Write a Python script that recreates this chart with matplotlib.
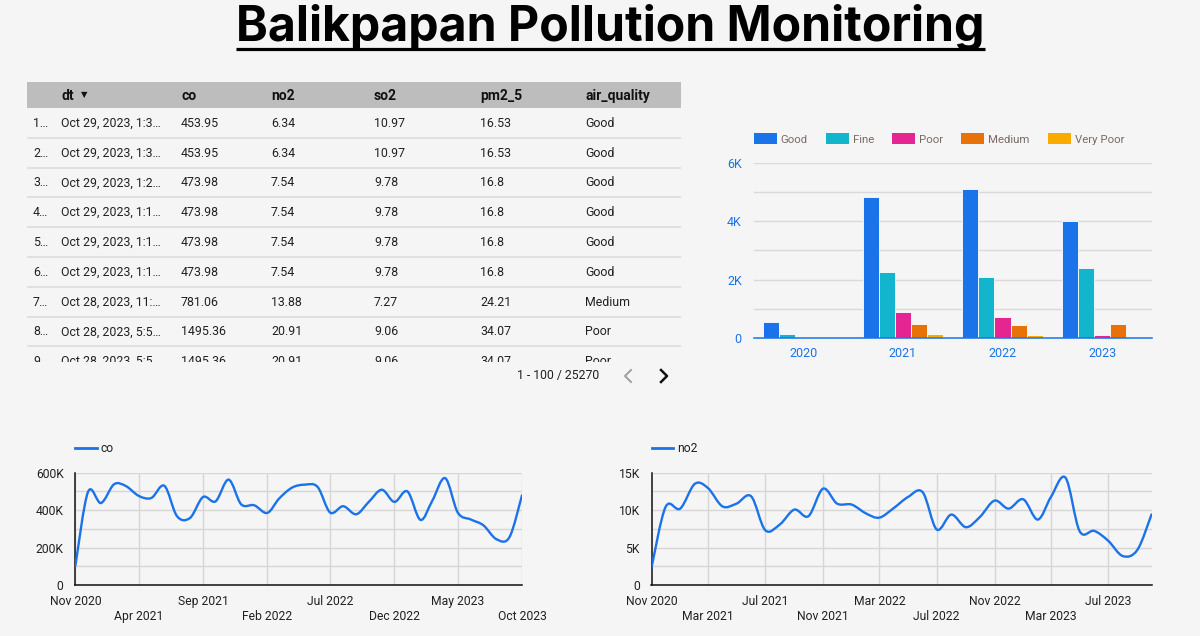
import matplotlib
matplotlib.use("Agg")
import matplotlib.dates as mdates
import matplotlib.pyplot as plt
import numpy as np
import pandas as pd
from matplotlib.lines import Line2D
from matplotlib.patches import Patch, PathPatch, Rectangle
from matplotlib.path import Path
from matplotlib.ticker import FuncFormatter, MultipleLocator


W, H = 1200, 636
BG = "#f5f5f5"
BLUE = "#1a73e8"
TEXT = "#202124"

TITLE = "Balikpapan Pollution Monitoring"

# table (first rows of the dashboard table)
TABLE_HEADER = ["dt", "co", "no2", "so2", "pm2_5", "air_quality"]
TABLE_INDEX = ["1…", "2…", "3…", "4…", "5…", "6…", "7…", "8…", "9…"]
TABLE_DT = [
    "Oct 29, 2023, 1:3…", "Oct 29, 2023, 1:3…", "Oct 29, 2023, 1:2…",
    "Oct 29, 2023, 1:1…", "Oct 29, 2023, 1:1…", "Oct 29, 2023, 1:1…",
    "Oct 28, 2023, 11:…", "Oct 28, 2023, 5:5…", "Oct 28, 2023, 5:5…",
]
TABLE_CO = ["453.95", "453.95", "473.98", "473.98", "473.98", "473.98",
            "781.06", "1495.36", "1495.36"]
TABLE_NO2 = ["6.34", "6.34", "7.54", "7.54", "7.54", "7.54", "13.88", "20.91", "20.91"]
TABLE_SO2 = ["10.97", "10.97", "9.78", "9.78", "9.78", "9.78", "7.27", "9.06", "9.06"]
TABLE_PM25 = ["16.53", "16.53", "16.8", "16.8", "16.8", "16.8", "24.21", "34.07", "34.07"]
TABLE_AQ = ["Good", "Good", "Good", "Good", "Good", "Good", "Medium", "Poor", "Poor"]
TABLE_PAGER = "1 - 100 / 25270"

# bar chart: air quality counts per year
YEARS = ["2020", "2021", "2022", "2023"]
QUALITY = ["Good", "Fine", "Poor", "Medium", "Very Poor"]
QUALITY_COLORS = ["#1a73e8", "#12b5cb", "#e52592", "#e8710a", "#f9ab00"]
GOOD = [550, 4830, 5100, 3990]
FINE = [150, 2250, 2080, 2400]
POOR = [60, 890, 720, 110]
MEDIUM = [40, 500, 470, 500]
VERY_POOR = [0, 150, 115, 0]

# monthly sums
MONTHS = pd.date_range("2020-11-01", "2023-10-01", freq="MS")
CO = [103000, 497000, 438000, 538000, 529000, 476000, 465000, 530000, 368000,
      358000, 470000, 447000, 563000, 431000, 426000, 385000, 461000, 520000,
      536000, 524000, 387000, 421000, 378000, 444000, 509000, 444000, 500000,
      348000, 449000, 571000, 387000, 350000, 319000, 245000, 255000, 479000]
NO2 = [2310, 10430, 10200, 13500, 12960, 10500, 10870, 11850, 7320,
       8080, 10070, 9190, 12870, 10870, 10740, 9540, 9000, 10300,
       11760, 12400, 7410, 9410, 7720, 9100, 11270, 10200, 11450,
       8740, 11760, 14330, 7190, 7230, 5900, 3860, 4700, 9410]


def px_axes(fig, x0, y0, x1, y1):
    return fig.add_axes([x0 / W, 1 - y1 / H, (x1 - x0) / W, (y1 - y0) / H])


def k_fmt(v, pos):
    return "0" if v == 0 else f"{v / 1000:g}K"


def smooth_line(ax, dates, values, color):
    x = mdates.date2num(dates)
    y = np.asarray(values, dtype=float)
    xp = np.r_[x[0], x, x[-1]]
    yp = np.r_[y[0], y, y[-1]]
    verts = [(x[0], y[0])]
    codes = [Path.MOVETO]
    for i in range(len(x) - 1):
        verts.append((xp[i + 1] + (xp[i + 2] - xp[i]) / 6,
                      yp[i + 1] + (yp[i + 2] - yp[i]) / 6))
        verts.append((xp[i + 2] - (xp[i + 3] - xp[i + 1]) / 6,
                      yp[i + 2] - (yp[i + 3] - yp[i + 1]) / 6))
        verts.append((xp[i + 2], yp[i + 2]))
        codes += [Path.CURVE4] * 3
    ax.add_patch(PathPatch(Path(verts, codes), facecolor="none", edgecolor=color,
                           lw=1.7, capstyle="round", joinstyle="round", zorder=3))


def line_chart(fig, box, values, label, ymax, major, minor, tick_step, legend_x):
    ax = px_axes(fig, *box)
    ax.set_facecolor(BG)
    smooth_line(ax, MONTHS, values, BLUE)
    ax.set_xlim(MONTHS[0], MONTHS[-1])
    ax.set_ylim(0, ymax)
    ax.yaxis.set_major_locator(MultipleLocator(major))
    ax.yaxis.set_minor_locator(MultipleLocator(minor))
    ax.yaxis.set_major_formatter(FuncFormatter(k_fmt))
    ticks = MONTHS[::tick_step]
    ax.set_xticks(ticks)
    ax.set_xticklabels([("" if i % 2 == 0 else "\n") + d.strftime("%b %Y")
                        for i, d in enumerate(ticks)])
    ax.grid(True, which="both", color="#d6d6d6", lw=1.0)
    ax.set_axisbelow(True)
    ax.tick_params(axis="both", which="both", length=0, labelsize=8.7,
                   labelcolor=TEXT)
    ax.tick_params(axis="y", pad=8.5)
    ax.tick_params(axis="x", pad=7)
    for side in ("top", "right"):
        ax.spines[side].set_visible(False)
    for side in ("left", "bottom"):
        ax.spines[side].set_color("#111111")
        ax.spines[side].set_linewidth(1.1)
    fig.legend([Line2D([], [], color=BLUE, lw=2.0)], [label], loc="center left",
               bbox_to_anchor=(legend_x / W, 1 - 449 / H), frameon=False,
               borderpad=0, borderaxespad=0, handlelength=1.75,
               handletextpad=0.35, fontsize=8.7, labelcolor=TEXT)
    return ax


fig = plt.figure(figsize=(W / 100, H / 100), dpi=100, facecolor=BG)
plt.rcParams["font.family"] = ["Roboto", "DejaVu Sans"]

ax_bg = fig.add_axes([0, 0, 1, 1])
ax_bg.set_xlim(0, W)
ax_bg.set_ylim(H, 0)
ax_bg.axis("off")

# title with underline, sized so it spans the same width as the original
title = ax_bg.text(610.5, 41, TITLE, ha="center", va="baseline", fontsize=32,
                   fontweight="bold", family=["Inter", "DejaVu Sans"], color="#000000")
fig.canvas.draw()
title.set_fontsize(32 * 749 / title.get_window_extent().width)
fig.canvas.draw()
tb = title.get_window_extent()
ax_bg.plot([tb.x0, tb.x1], [48.5, 48.5], color="#000000", lw=2.3,
           solid_capstyle="butt")

# table header
ax_bg.add_patch(Rectangle((27, 82), 654, 26, facecolor="#bdbdbd", edgecolor="none"))
col_x = [61, 181, 271, 374, 480, 585]
for x, name in zip(col_x, TABLE_HEADER):
    ax_bg.text(x, 96, name, ha="left", va="center", fontsize=10, fontweight="bold",
               color="#111111")
ax_bg.text(81, 95, "▼", ha="left", va="center", fontsize=6, color="#111111",
           family=["DejaVu Sans"])

# table body (clipped at the bottom like the scrolled view)
ax_tab = px_axes(fig, 27, 108, 681, 362)
ax_tab.set_xlim(27, 681)
ax_tab.set_ylim(362, 108)
ax_tab.axis("off")
row_h = 29.8
columns = [TABLE_INDEX, TABLE_DT, TABLE_CO, TABLE_NO2, TABLE_SO2, TABLE_PM25, TABLE_AQ]
for r in range(len(TABLE_DT)):
    yc = 108 + r * row_h + 15.3
    for x, col in zip([33] + col_x, columns):
        ax_tab.text(x, yc, col[r], ha="left", va="center", fontsize=8.9,
                    color=TEXT, clip_on=True)
    ax_tab.plot([27, 681], [108 + (r + 1) * row_h] * 2, color="#dcdcdc", lw=1.2)

ax_bg.text(517, 376, TABLE_PAGER, ha="left", va="center", fontsize=8.8, color=TEXT)
ax_bg.plot([631, 625, 631], [370, 376, 382], color="#9e9e9e", lw=1.4)
ax_bg.plot([661, 667, 661], [370, 376, 382], color="#111111", lw=1.8)

# bar chart
ax_bar = px_axes(fig, 753.5, 162.5, 1152, 338.3)
ax_bar.set_facecolor(BG)
series = [GOOD, FINE, POOR, MEDIUM, VERY_POOR]
xs = np.arange(len(YEARS))
step = 0.162
for k, (vals, color) in enumerate(zip(series, QUALITY_COLORS)):
    vals = np.asarray(vals, dtype=float)
    keep = vals > 0
    ax_bar.bar(xs[keep] + (k - 2) * step, vals[keep], width=step, color=color,
               edgecolor="white", linewidth=0.6, zorder=3)
ax_bar.set_xlim(-0.5, len(YEARS) - 0.5)
ax_bar.set_ylim(0, 6000)
ax_bar.yaxis.set_major_locator(MultipleLocator(2000))
ax_bar.yaxis.set_minor_locator(MultipleLocator(1000))
ax_bar.yaxis.set_major_formatter(FuncFormatter(k_fmt))
ax_bar.set_xticks(xs)
ax_bar.set_xticklabels(YEARS)
ax_bar.grid(True, axis="y", which="both", color="#dadada", lw=1.0)
ax_bar.set_axisbelow(True)
ax_bar.tick_params(axis="both", which="both", length=0, labelsize=9,
                   labelcolor=BLUE)
ax_bar.tick_params(axis="y", pad=8.5)
ax_bar.tick_params(axis="x", pad=6)
for side in ("top", "right", "left"):
    ax_bar.spines[side].set_visible(False)
ax_bar.spines["bottom"].set_color(BLUE)
ax_bar.spines["bottom"].set_linewidth(1.1)
ax_bar.spines["bottom"].set_zorder(4)
fig.legend([Patch(facecolor=c, edgecolor="none") for c in QUALITY_COLORS], QUALITY,
           loc="center left", bbox_to_anchor=(754 / W, 1 - 139 / H), ncol=5,
           frameon=False, borderpad=0, borderaxespad=0, handlelength=2.0,
           handleheight=1.05, handletextpad=0.35, columnspacing=1.6,
           fontsize=8.2, labelcolor="#7a6a64")

# line charts
line_chart(fig, (75.4, 472.7, 522, 585), CO, "co", 600000, 200000, 100000, 5, 75.4)
line_chart(fig, (651.5, 472.7, 1151.5, 585), NO2, "no2", 15000, 5000, 2500, 4, 651.5)

fig.savefig("out.png", dpi=100, facecolor=BG)
